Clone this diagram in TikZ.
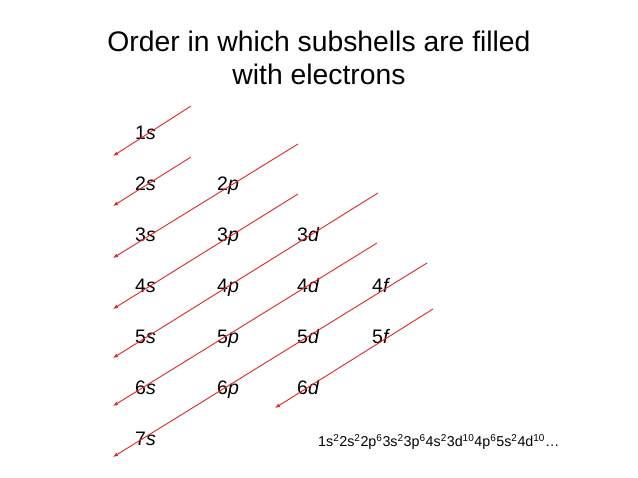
\documentclass[tikz,border=0pt]{standalone}
\usepackage{fontspec}
\setmainfont{Liberation Sans}
\usetikzlibrary{arrows.meta}
\definecolor{fillred}{RGB}{220,40,40}
\tikzset{
  orbital/.style={anchor=base west, inner sep=0pt, font=\fontsize{19.5}{22}\selectfont},
  headline/.style={anchor=base, inner sep=0pt, font=\fontsize{28.3}{33}\selectfont},
  fillorder/.style={draw=fillred, line width=0.9pt, -{Latex[length=5pt,width=4pt]}},
}
\begin{document}
\begin{tikzpicture}[x=1pt,y=-1pt]
    \useasboundingbox (0,0) rectangle (638,478);
    % title
    \node[headline] (title1) at (319,52) {Order in which subshells are filled};
    \node[headline] (title2) at (319,85) {with electrons};
    % subshells
    \foreach \n in {1,...,7}
        \node[orbital] (s\n) at (135,{140+51*(\n-1)}) {\n\textit{s}};
    \foreach \n in {2,...,6}
        \node[orbital] (p\n) at (217,{140+51*(\n-1)}) {\n\textit{p}};
    \foreach \n in {3,...,6}
        \node[orbital] (d\n) at (297,{140+51*(\n-1)}) {\n\textit{d}};
    \foreach \n in {4,5}
        \node[orbital] (f\n) at (372,{140+51*(\n-1)}) {\n\textit{f}};
    % filling order
    \foreach \i/\xa/\ya/\xb/\yb in {1/191/106/113/156, 2/191/157/113/206,
        3/298/144/113/258, 4/298/194/113/309, 5/378/193/113/358,
        6/377/243/113/406, 7/427/263/113/457, 8/433/309/275/408} {
        \coordinate (top\i) at (\xa,\ya);
        \coordinate (end\i) at (\xb,\yb);
        \draw[fillorder] (top\i) -- (end\i);
    }
    \node[anchor=base west, inner sep=0pt, font=\fontsize{14.3}{16}\selectfont] (config) at (318,447)
        {1s\textsuperscript{2}2s\textsuperscript{2}2p\textsuperscript{6}3s\textsuperscript{2}3p\textsuperscript{6}4s\textsuperscript{2}3d\textsuperscript{10}4p\textsuperscript{6}5s\textsuperscript{2}4d\textsuperscript{10}…};
\end{tikzpicture}
\end{document}
